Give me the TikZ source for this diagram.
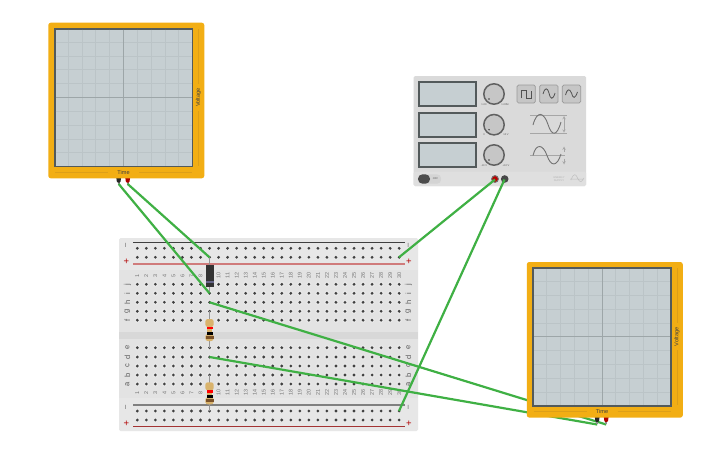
\documentclass[tikz,border=0pt]{standalone}
\usepackage{fontspec}
\setmainfont{Liberation Sans}
\definecolor{scopeor}{HTML}{F2AE14}
\definecolor{scopetick}{HTML}{DD9F18}
\definecolor{screenc}{HTML}{C6CFD2}
\definecolor{screenb}{HTML}{535A5B}
\definecolor{gridc}{HTML}{BBC4C7}
\definecolor{gridd}{HTML}{9DA6A8}
\definecolor{boardc}{HTML}{E3E3E3}
\definecolor{railc}{HTML}{E7E7E7}
\definecolor{gutter}{HTML}{D8D8D8}
\definecolor{wirec}{HTML}{3FB044}
\definecolor{pspanel}{HTML}{DADADA}
\definecolor{psstrip}{HTML}{DFDFDF}
\definecolor{railred}{HTML}{D07C7C}
\definecolor{btn}{HTML}{C6C6C6}
\definecolor{bodyc}{HTML}{D9B36C}
\tikzset{
 wire/.style={draw=wirec,line width=2.2pt},
 scopebody/.style={fill=scopeor,draw=none,rounded corners=2.5pt},
 screen/.style={fill=screenc,draw=screenb,line width=1.8pt},
 tiny/.style={font=\fontsize{5.6}{5.6}\selectfont,text=black!75,inner sep=0pt},
 micro/.style={font=\fontsize{2.6}{2.6}\selectfont,text=black!65,inner sep=0pt},
 blabel/.style={font=\fontsize{7.5}{7.5}\selectfont,text=black!65,inner sep=0pt},
 nlabel/.style={font=\fontsize{5.4}{5.4}\selectfont,text=black!55,inner sep=0pt,rotate=90},
 hole/.style={fill=black!75,draw=none},
 knob/.style={fill=btn,draw=black!62,line width=1.5pt},
 disp/.style={fill=screenc,draw=screenb,line width=2pt},
 bbtn/.style={fill=btn,draw=black!40,line width=.7pt,rounded corners=1.5pt},
 glyph/.style={draw=black!68,line width=.8pt},
 wave/.style={draw=black!55,line width=.9pt},
 guide/.style={draw=black!35,line width=.5pt},
 lead/.style={draw=black!42,line width=1.3pt},
}
\newcommand{\oscope}[3]{% name, dx, dy
 \begin{scope}[shift={(#2,#3)}]
  \draw[black!45,line width=1.6pt] (118.7,180) -- (118.7,184.5);
  \draw[black!45,line width=1.6pt] (127.7,180) -- (127.7,184.5);
  \fill[black!85,rounded corners=.8pt] (116.2,177) -- (121.2,177) -- (120.4,182.5) -- (117,182.5) -- cycle;
  \fill[red!68!black,rounded corners=.8pt] (125.2,177) -- (130.2,177) -- (129.4,182.5) -- (126,182.5) -- cycle;
  \path[scopebody] (48.3,22.7) rectangle (204.3,178.3);
  \path[screen] (54.6,28.6) rectangle (192.4,166.4);
  \foreach \i in {1,2,3,4,6,7,8,9}{
   \draw[gridc,line width=.9pt] ({54.3+13.84*\i},29.5) -- ({54.3+13.84*\i},165.5);
   \draw[gridc,line width=.9pt] (55.5,{28.3+13.84*\i}) -- (191.5,{28.3+13.84*\i});
  }
  \draw[gridd,line width=.9pt] (123.5,29.5) -- (123.5,165.5);
  \draw[gridd,line width=.9pt] (55.5,97.5) -- (191.5,97.5);
  \draw[scopetick,line width=.7pt] (198.5,29) -- (198.5,84) (198.5,111) -- (198.5,166);
  \draw[scopetick,line width=.7pt] (55,172.5) -- (108,172.5) (139,172.5) -- (192,172.5);
  \node[tiny] (#1time) at (123.5,172.5) {Time};
  \node[tiny,rotate=90] (#1volt) at (198.5,97.5) {Voltage};
 \end{scope}
}
\begin{document}
\begin{tikzpicture}[x=1pt,y=-1pt]
\useasboundingbox (0,0) rectangle (725,453);
\fill[white] (0,0) rectangle (725,453);
% power supply
\fill[pspanel,rounded corners=1.5pt] (413.7,76) rectangle (586,186);
\fill[psstrip,rounded corners=1.5pt] (413.7,171.7) rectangle (586,186);
\path[disp] (418.7,81.7) rectangle (476.3,106.3);
\path[disp] (418.7,112.7) rectangle (476.3,137.3);
\path[disp] (418.7,142.7) rectangle (476.3,167.3);
\foreach \y in {94,124.7,155}{
 \path[knob] (494,\y) circle (10.2);
 \fill[black!75] (489,{\y+5}) circle (.8);
}
\node[micro] (k1a) at (484,104.5) {1.00}; \node[micro] (k1b) at (505,104.5) {1.00M};
\node[micro] (k2a) at (484,135) {0}; \node[micro] (k2b) at (506,135) {10 V};
\node[micro] (k3a) at (484,165.5) {-10 V}; \node[micro] (k3b) at (506,165.5) {+10 V};
\path[bbtn] (517,85) rectangle (535.3,103);
\path[bbtn] (539.7,85) rectangle (558,103);
\path[bbtn] (562.3,85) rectangle (580.7,103);
\draw[glyph] (521.7,98) -- (521.7,90.3) -- (526.7,90.3) -- (526.7,98) -- (531.7,98) -- (531.7,91);
\draw[glyph] (543,94) .. controls (545,87) and (547.5,87.5) .. (549,93) .. controls (550.5,100) and (553,100) .. (555,93);
\draw[glyph] (565.5,95) .. controls (567,89) and (569.5,88) .. (571.5,93) .. controls (573,99) and (575,99) .. (577.5,92);
% sine icons
\draw[guide] (530,115.3) -- (567,115.3) (530,133.3) -- (567,133.3);
\draw[wave] (533,125) .. controls (537,110) and (544,112) .. (548,124.5) .. controls (552,137) and (557,136) .. (561,122);
\draw[guide,<->,>=stealth] (564,116) -- (564,132.7);
\draw[guide] (530,155.5) -- (565,155.5);
\draw[wave] (533,155.5) .. controls (536,143) and (543,144) .. (547,155.5) .. controls (551,167) and (557,167) .. (561,154);
\draw[guide,->,>=stealth] (564,152) -- (564,146.5);
\draw[guide,->,>=stealth] (564,158.5) -- (564,164.5);
% switch
\fill[black!17,rounded corners=4pt] (418,174.3) rectangle (441,183.7);
\fill[black!70,rounded corners=4.5pt] (418,174.3) rectangle (430,183.7);
\node[micro] (swl) at (435.5,179) {OFF};
\node[micro,text=black!30,align=center] (logo) at (559,179) {ENERGY\\ SUPPLY};
\draw[black!25,line width=.5pt] (571,180) .. controls (574,172) and (576,174) .. (578,179) .. controls (580,183) and (582,182) .. (584,178) (570,179) -- (583,179);
\fill[red!72!black] (495,179) circle (3.4);
\draw[black!55,line width=.9pt] (495,179) circle (3.4);
\fill[black!72] (504.7,179) circle (3.8);
\coordinate (psred) at (495,179.5);
\coordinate (psblk) at (504.5,179.5);
% breadboard
\fill[railc,rounded corners=1.5pt] (119,238) rectangle (418,431);
\fill[boardc] (119,270) rectangle (418,398);
\fill[gutter] (119,331.5) rectangle (418,339);
\draw[black!75,line width=.7pt] (133,242) -- (405,242);
\draw[railred,line width=1.8pt] (133,264) -- (405,264);
\draw[black!50,line width=1.4pt] (133,405) -- (405,405);
\draw[red!55!black!80,line width=.9pt] (133,426.3) -- (405,426.3);
\foreach \nm/\x/\ya/\yb in {tl/126.5/245/262,tr/409/245/262,bl/126.5/407.5/423.5,br/409/407.5/423.5}{
 \node[blabel,rotate=90] (\nm m) at (\x,\ya) {--};
 \node[blabel,text=red!70!black,font=\fontsize{9.5}{9.5}\selectfont] (\nm p) at (\x,\yb) {+};
}
\foreach \c in {0,...,29}{
 \pgfmathsetmacro{\xx}{137.3+9.03*\c}
 \foreach \y in {248.3,257.3,284.3,293.3,302.3,311.3,320.2,347.7,357,366,375,384,411,420}{
  \fill[black!9] (\xx,\y) circle (2.8);
  \path[hole] (\xx,\y) circle (1.55);
 }
 \pgfmathtruncatemacro{\nn}{\c+1}
 \node[nlabel] (nt\nn) at (\xx,275.5) {\nn};
 \node[nlabel] (nb\nn) at (\xx,392.5) {\nn};
}
\foreach \l/\y in {j/284.3,i/293.3,h/302.3,g/311.3,f/320.2,e/347.7,d/357,c/366,b/375,a/384}{
 \node[blabel,rotate=90] (ll\l) at (127.5,\y) {\l};
 \node[blabel,rotate=90] (lr\l) at (408.5,\y) {\l};
}
\coordinate (hA) at (209.5,257.3);
\coordinate (hB) at (209.5,293.3);
\coordinate (hC) at (209.5,302.3);
\coordinate (hD) at (209.5,357);
\coordinate (hE) at (399,257.3);
\coordinate (hF) at (399,411);
% diode
\draw[lead] (209.5,257.3) -- (209.5,293.3);
\fill[black!80] (205.7,264.5) rectangle (214,286.7);
\fill[black!30!blue!20!gray] (205.7,281) rectangle (214,283);
% resistors
\foreach \sh in {0,63.3}{
 \begin{scope}[shift={(0,\sh)}]
 \draw[lead] (209.5,311.3) -- (209.5,347.7);
 \fill[bodyc,rounded corners=2.5pt] (205.3,319) rectangle (213.7,327);
 \fill[bodyc] (206.8,325) rectangle (212.2,336);
 \fill[bodyc,rounded corners=2.5pt] (205.3,334) rectangle (213.7,341);
 \fill[red] (206.5,326.8) rectangle (212.5,329.2);
 \fill[black] (206.5,331.5) rectangle (212.5,334.5);
 \fill[brown!65!black] (205.5,336) rectangle (213.5,338.8);
 \end{scope}
}
\coordinate (sablk) at (118.7,184);
\coordinate (sared) at (127.7,184);
\oscope{sa}{0}{0}
\draw[wire] (sablk) -- (hB);
\draw[wire] (sared) -- (hA);
\draw[wire] (psred) -- (hE);
\draw[wire] (psblk) -- (hF);
\coordinate (sbblk) at (597.2,424.5);
\coordinate (sbred) at (606.2,424.5);
\draw[wire] (sbblk) -- (hD);
\draw[wire] (sbred) -- (hC);
\oscope{sb}{478.5}{239.3}
\end{tikzpicture}
\end{document}
